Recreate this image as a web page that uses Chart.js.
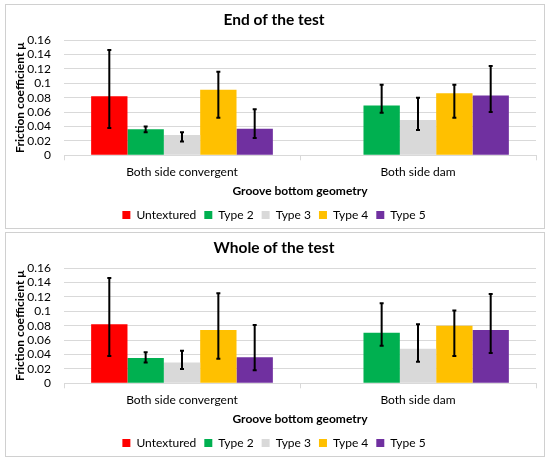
<!DOCTYPE html>
<html>
<head>
<meta charset="utf-8">
<script src="https://cdn.jsdelivr.net/npm/chart.js@4.4.0/dist/chart.umd.min.js"></script>
<style>
  body { margin: 0; background: #fff; }
  .box { position: absolute; left: 5px; width: 538px; height: 223px; border: 1px solid #d0d0d0; }
  .box canvas { position: absolute; left: 0; top: 0; }
</style>
</head>
<body>
<div class="box" style="top:4px"><canvas id="endChart" width="538" height="226"></canvas></div>
<div class="box" style="top:232px"><canvas id="wholeChart" width="538" height="226"></canvas></div>
<script>
// categories and series
const categories = ['Both side convergent', 'Both side dam'];
const seriesNames = ['Untextured', 'Type 2', 'Type 3', 'Type 4', 'Type 5'];
const seriesColors = ['#ff0000', '#00b050', '#d9d9d9', '#ffc000', '#7030a0'];
const yTicks = [0, 0.02, 0.04, 0.06, 0.08, 0.1, 0.12, 0.14, 0.16];

// End of the test (per series: Untextured, Type 2..5)
const endConvergent = [0.082, 0.036, 0.028, 0.091, 0.037];
const endConvergentLow = [0.038, 0.032, 0.019, 0.052, 0.024];
const endConvergentHigh = [0.146, 0.040, 0.032, 0.116, 0.064];
const endDam = [null, 0.069, 0.049, 0.086, 0.083];
const endDamLow = [null, 0.059, 0.035, 0.052, 0.060];
const endDamHigh = [null, 0.098, 0.080, 0.098, 0.124];

// Whole of the test
const wholeConvergent = [0.082, 0.035, 0.029, 0.074, 0.036];
const wholeConvergentLow = [0.038, 0.029, 0.020, 0.034, 0.018];
const wholeConvergentHigh = [0.146, 0.043, 0.045, 0.125, 0.081];
const wholeDam = [null, 0.070, 0.048, 0.080, 0.074];
const wholeDamLow = [null, 0.052, 0.030, 0.038, 0.042];
const wholeDamHigh = [null, 0.111, 0.082, 0.101, 0.124];

const FONT = 'Lato, "Open Sans", sans-serif';

// draws the min/max whiskers using the chart's own scales
const errorBars = {
  id: 'errorBars',
  afterDatasetsDraw(chart) {
    const ctx = chart.ctx;
    const yScale = chart.scales.y;
    ctx.save();
    ctx.strokeStyle = '#000';
    ctx.lineWidth = 2;
    chart.data.datasets.forEach((ds, i) => {
      const meta = chart.getDatasetMeta(i);
      meta.data.forEach((bar, j) => {
        const lo = ds.errLow[j], hi = ds.errHigh[j];
        if (lo == null || hi == null) return;
        const yl = yScale.getPixelForValue(lo);
        const yh = yScale.getPixelForValue(hi);
        ctx.beginPath();
        ctx.moveTo(bar.x, yl); ctx.lineTo(bar.x, yh);
        ctx.moveTo(bar.x - 2, yl); ctx.lineTo(bar.x + 2, yl);
        ctx.moveTo(bar.x - 2, yh); ctx.lineTo(bar.x + 2, yh);
        ctx.stroke();
      });
    });
    ctx.restore();
  }
};

function makeChart(id, title, conv, convLow, convHigh, dam, damLow, damHigh) {
  const datasets = seriesNames.map((name, i) => ({
    label: name,
    data: [conv[i], dam[i]],
    errLow: [convLow[i], damLow[i]],
    errHigh: [convHigh[i], damHigh[i]],
    backgroundColor: seriesColors[i],
    borderWidth: 0,
    categoryPercentage: 0.77,
    barPercentage: 1.0
  }));

  return new Chart(document.getElementById(id).getContext('2d'), {
    type: 'bar',
    data: { labels: categories, datasets: datasets },
    plugins: [errorBars],
    options: {
      responsive: false,
      animation: false,
      layout: { padding: { left: 6, right: 8, top: 0, bottom: 0 } },
      plugins: {
        title: {
          display: true,
          text: title,
          color: '#000',
          font: { family: FONT, size: 15.5, weight: 'bold' },
          padding: { top: 6, bottom: 10.4 }
        },
        legend: {
          position: 'bottom',
          labels: {
            boxWidth: 8,
            boxHeight: 8,
            padding: 8,
            color: '#000',
            font: { family: FONT, size: 12 }
          }
        },
        tooltip: { enabled: false }
      },
      scales: {
        x: {
          grid: { display: true, drawOnChartArea: false, drawTicks: true, tickLength: 5, color: '#d9d9d9', offset: true },
          border: { display: true, color: '#d9d9d9' },
          ticks: { color: '#000', padding: 4.8, font: { family: FONT, size: 12 } },
          title: {
            display: true,
            text: 'Groove bottom geometry',
            color: '#000',
            font: { family: FONT, size: 12, weight: 'bold' },
            padding: { top: 0, bottom: 2.3 }
          }
        },
        y: {
          min: 0,
          max: 0.16,
          afterBuildTicks(scale) { scale.ticks = yTicks.map(v => ({ value: v })); },
          grid: { color: '#d9d9d9', drawTicks: false },
          border: { display: false },
          ticks: {
            autoSkip: false,
            color: '#000',
            padding: 13,
            font: { family: FONT, size: 12 },
            callback: v => String(+v.toFixed(2))
          },
          title: {
            display: true,
            text: 'Friction coefficient μ',
            color: '#000',
            font: { family: FONT, size: 12, weight: 'bold' },
            padding: { top: 1, bottom: 2 }
          },
          afterFit(scale) { scale.width = 52; }
        }
      }
    }
  });
}

makeChart('endChart', 'End of the test', endConvergent, endConvergentLow, endConvergentHigh, endDam, endDamLow, endDamHigh);
makeChart('wholeChart', 'Whole of the test', wholeConvergent, wholeConvergentLow, wholeConvergentHigh, wholeDam, wholeDamLow, wholeDamHigh);
</script>
</body>
</html>
